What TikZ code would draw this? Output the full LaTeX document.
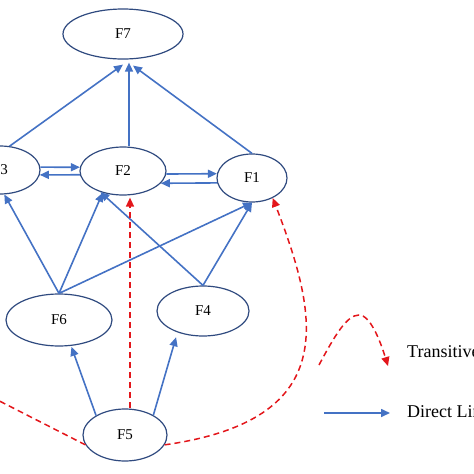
\documentclass[tikz,border=0pt]{standalone}
\usepackage{fontspec}
\setmainfont{Liberation Serif}
\usetikzlibrary{arrows.meta,calc,shapes.geometric}
\definecolor{lnblue}{HTML}{4472C4}
\definecolor{ovl}{HTML}{2F4A7F}
\definecolor{trred}{HTML}{E3161B}
\begin{document}
\begin{tikzpicture}[x=1pt,y=-1pt,
  fnode/.style={ellipse, draw=ovl, line width=1.2pt, inner sep=0pt, font=\fontsize{15}{18}\selectfont},
  tdash/.style={draw=trred, line width=1.5pt, dash pattern=on 6pt off 4pt},
  dlink/.style={draw=lnblue, line width=1.6pt, -{Triangle[length=9pt,width=8pt]}},
  tlink/.style={tdash, -{Triangle[length=9pt,width=8pt]}},
  legtext/.style={anchor=base west, inner sep=0pt, font=\fontsize{18}{21}\selectfont}]
\useasboundingbox (0,0) rectangle (474,474);
\clip (0,0) rectangle (474,474);
\node[fnode, minimum width=120pt, minimum height=50pt] (F7) at (123,34) {F7};
\node[fnode, minimum width=86pt, minimum height=48pt] (F2) at (123,171) {F2};
\node[fnode, minimum width=80pt, minimum height=48pt] (F3) at (0,170) {F3};
\node[fnode, minimum width=70pt, minimum height=48pt] (F1) at (252,178) {F1};
\node[fnode, minimum width=106pt, minimum height=52pt] (F6) at (59,320) {F6};
\node[fnode, minimum width=92pt, minimum height=50pt] (F4) at (203,311) {F4};
\node[fnode, minimum width=84pt, minimum height=52pt] (F5) at (125,435) {F5};
% direct links
\draw[dlink] (F3.68) -- ($(F7.south)+(0,5)$);
\draw[dlink] ($(F2.north)+(6,0)$) -- ($(F7.south)+(6,3)$);
\draw[dlink] (F1.north) -- ($(F7.south)+(10,6)$);
\draw[dlink] (F3.4) -- (F2.175);
\draw[dlink] (F2.185) -- (F3.-7);
\draw[dlink] (F2.-4) -- (F1.173);
\draw[dlink] (F1.188) -- (F2.-18);
\draw[dlink] (F6.north) -- (F3.-80);
\draw[dlink] (F6.north) -- (F2.227);
\draw[dlink] (F6.north) -- (F1.south);
\draw[dlink] (F4.north) -- (F2.223);
\draw[dlink] (F4.north) -- (F1.south);
\draw[dlink, shorten >=1pt] (F5.146) -- (F6.-65);
\draw[dlink, shorten >=5pt] (F5.35) -- (F4.220);
% transitive links
\draw[tlink] ($(F5.north)+(5,0)$) -- ($(F2.south)+(7,2)$);
\draw[tlink] (F5.-14) .. controls (340,420) and (320,320) .. (F1.-44);
\coordinate (off) at (-30,386);
\draw[tdash] (F5.194) -- (off);
% legend
\coordinate (ta) at (319,365);
\coordinate (tb) at (388,366);
\draw[tlink] (ta) .. controls (335,335) and (347,315) .. (359,315) .. controls (370,315) and (380,340) .. (tb);
\coordinate (da) at (324,413);
\coordinate (db) at (390,413);
\draw[dlink] (da) -- (db);
\node[legtext] (tt) at (407,357) {Transitive};
\node[legtext] (dt) at (407,417) {Direct Link};
\end{tikzpicture}
\end{document}
